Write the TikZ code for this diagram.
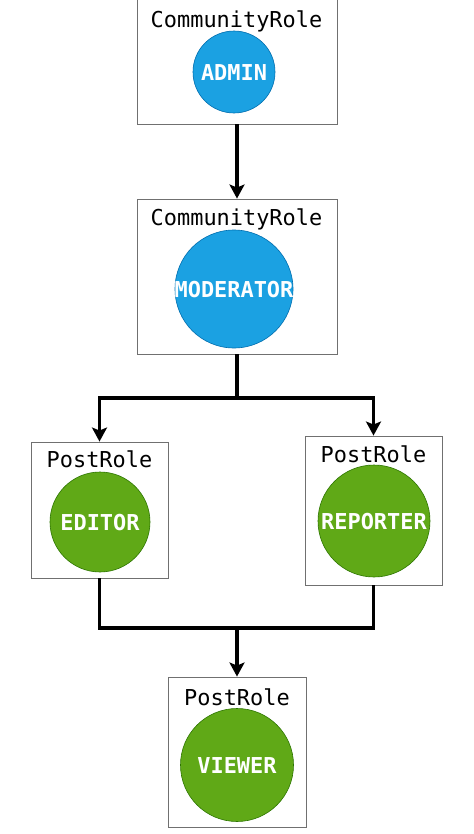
\documentclass[tikz,border=0pt]{standalone}
\usepackage{fontspec}
\newfontfamily\monofont{DejaVu Sans Mono}
\usetikzlibrary{arrows.meta}
\definecolor{rblue}{HTML}{1BA1E2}
\definecolor{rbluedk}{HTML}{006EAF}
\definecolor{rgreen}{HTML}{60A917}
\definecolor{rgreendk}{HTML}{2D7600}
\definecolor{boxgray}{HTML}{707070}
\tikzset{
  rolebox/.style={draw=boxgray, line width=0.9bp, fill=white, rectangle, inner sep=0pt},
  roletitle/.style={anchor=base, inner sep=0pt, font=\monofont\fontsize{22}{26}\selectfont, text=black},
  roundblue/.style={circle, draw=rbluedk, line width=0.6bp, fill=rblue, inner sep=0pt},
  roundgreen/.style={circle, draw=rgreendk, line width=0.6bp, fill=rgreen, inner sep=0pt},
  rolelbl/.style={anchor=base, inner sep=0pt, font=\monofont\bfseries\fontsize{22}{26}\selectfont, text=white},
  conn/.style={draw=black, line width=3.5bp, -{Stealth[length=14bp,width=15bp,inset=3bp]}},
  plainconn/.style={draw=black, line width=3.5bp},
}
\begin{document}
\begin{tikzpicture}[x=1bp,y=-1bp]
\useasboundingbox (0,0) rectangle (474,834);
% boxes
\node[rolebox, minimum width=200bp, minimum height=125bp] (box1) at (237,61.5) {};
\node[rolebox, minimum width=200bp, minimum height=155bp] (box2) at (237,276.5) {};
\node[rolebox, minimum width=137bp, minimum height=136bp] (box3) at (99.5,510) {};
\node[rolebox, minimum width=137bp, minimum height=149bp] (box4) at (373.5,510.5) {};
\node[rolebox, minimum width=138bp, minimum height=150bp] (box5) at (237,752) {};
% titles
\node[roletitle] (t1) at (236.5,27) {CommunityRole};
\node[roletitle] (t2) at (236.5,225) {CommunityRole};
\node[roletitle] (t3) at (99.5,467) {PostRole};
\node[roletitle] (t4) at (373.5,462) {PostRole};
\node[roletitle] (t5) at (237,705) {PostRole};
% circles
\node[roundblue, minimum size=82bp] (c1) at (234,72) {};
\node[roundblue, minimum size=118bp] (c2) at (234,289) {};
\node[roundgreen, minimum size=100bp] (c3) at (100,522) {};
\node[roundgreen, minimum size=112bp] (c4) at (374,521) {};
\node[roundgreen, minimum size=113bp] (c5) at (237,765) {};
% circle labels
\node[rolelbl] (l1) at (234,80) {ADMIN};
\node[rolelbl] (l2) at (234,297) {MODERATOR};
\node[rolelbl] (l3) at (100,530) {EDITOR};
\node[rolelbl] (l4) at (374,529) {REPORTER};
\node[rolelbl] (l5) at (237,773) {VIEWER};
% junctions
\coordinate (fork) at (237,398);
\coordinate (join) at (237,628);
% connectors
\draw[conn] (box1.south) -- (box2.north);
\draw[plainconn] (box2.south) -- (fork);
\draw[conn] (fork) -| (box3.north);
\draw[conn] (fork) -| (box4.north);
\draw[plainconn] (box3.south) |- (join);
\draw[plainconn] (box4.south) |- (join);
\draw[conn] (join) -- (box5.north);
\end{tikzpicture}
\end{document}
